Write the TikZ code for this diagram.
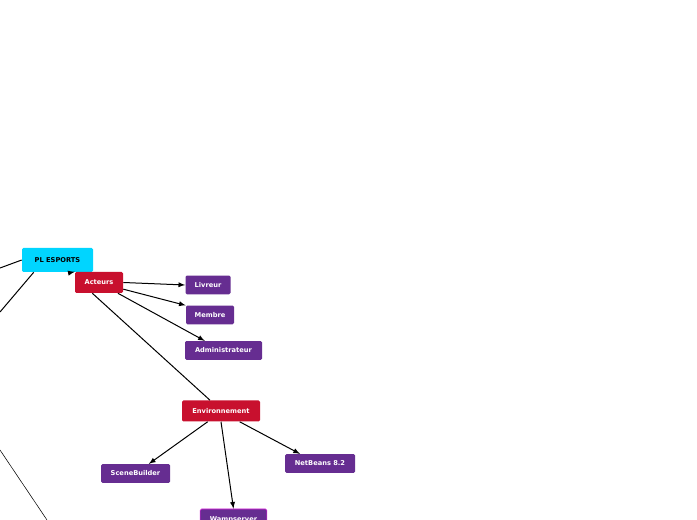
\documentclass[tikz,border=0pt]{standalone}
\usepackage{fontspec}
\setmainfont{DejaVu Sans}
\definecolor{topicblue}{HTML}{00D5FF}
\definecolor{topicred}{HTML}{C8102E}
\definecolor{topicpurple}{HTML}{662D91}
\definecolor{wampborder}{HTML}{E020E0}
\tikzset{
  topic/.style={rounded corners=1pt, font=\bfseries\fontsize{5}{6}\selectfont, inner sep=0pt},
  main/.style={topic, fill=topicblue, text=black, minimum width=53.25pt, minimum height=18pt},
  branch/.style={topic, fill=topicred, text=white, minimum height=15.75pt},
  leaf/.style={topic, fill=topicpurple, text=white, minimum height=14pt},
  link/.style={-latex, line width=0.75pt},
}
\begin{document}
\begin{tikzpicture}[x=0.75pt, y=-0.75pt]
\useasboundingbox (0,0) rectangle (697,520);

\node[main] (pl) at (57.5,260) {PL ESPORTS};
\node[branch, minimum width=36pt] (acteurs) at (99,282.5) {Acteurs};

\node[leaf, minimum width=33.75pt] (livreur) at (208,285) {Livreur};
\node[leaf, minimum width=36pt] (membre) at (210,315) {Membre};
\node[leaf, minimum width=57.75pt] (admin) at (223.5,350.5) {Administrateur};

\node[branch, minimum width=58.5pt] (env) at (221,411) {Environnement};
\node[leaf, minimum width=51.75pt] (scene) at (135.5,473.5) {SceneBuilder};
\node[leaf, minimum width=52.5pt] (netbeans) at (320,463.5) {NetBeans 8.2};
\node[leaf, draw=wampborder, minimum width=50pt, minimum height=15.75pt] (wamp) at (233.5,519.5) {Wampserver};

\coordinate (offa) at (0,268);
\coordinate (offb) at (0,312);
\coordinate (offc) at (0,450);
\coordinate (offd) at (47,520);

\draw[line width=0.75pt] (pl.west) -- (offa);
\draw[line width=0.75pt] ([xshift=9pt]pl.south west) -- (offb);
\draw[line width=0.4pt] (offc) -- (offd);

\draw[link] ([xshift=-15.75pt]pl.south east) -- (acteurs.north west);
\draw[link] (acteurs.east) -- (livreur.west);
\draw[link] ([yshift=-5pt]acteurs.east) -- (membre.north west);
\draw[link] ([xshift=-4pt]acteurs.south east) -- ([xshift=-14pt]admin.north);
\draw[line width=0.75pt] ([xshift=-5pt]acteurs.south) -- ([xshift=-8.25pt]env.north);

\draw[link] ([xshift=-10pt]env.south) -- ([xshift=10pt]scene.north);
\draw[link] (env.south) -- (wamp.north);
\draw[link] ([xshift=14pt]env.south) -- ([xshift=-15pt]netbeans.north);
\end{tikzpicture}
\end{document}
